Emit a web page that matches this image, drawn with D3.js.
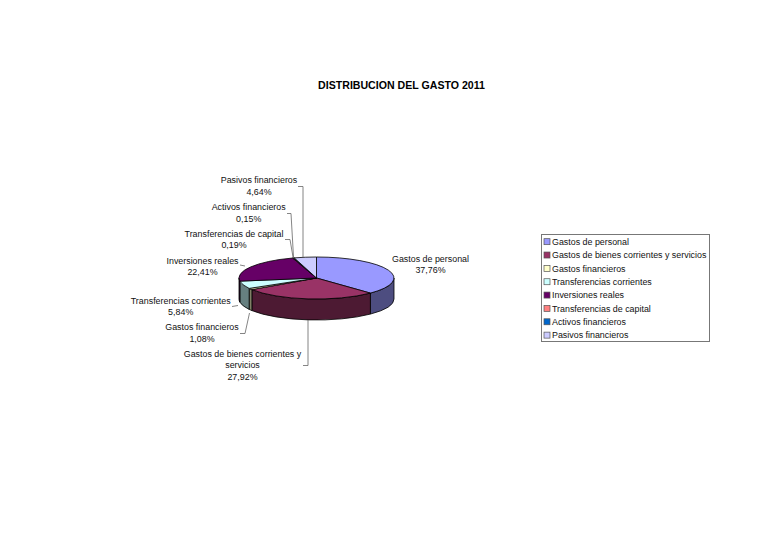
<!DOCTYPE html>
<html>
<head>
<meta charset="utf-8">
<script src="https://d3js.org/d3.v7.min.js"></script>
<style>
    html, body { margin: 0; padding: 0; background: #fff; }
    svg { display: block; }
    text { font-family: "Liberation Sans", Arial, sans-serif; font-size: 8.9px; fill: #111; }
    .title { font-size: 10.6px; font-weight: bold; fill: #000; }
</style>
</head>
<body>
<script>
//chart data
var title = "DISTRIBUCION DEL GASTO 2011";
var categories = ["Gastos de personal", "Gastos de bienes corrientes y servicios", "Gastos financieros",
    "Transferencias corrientes", "Inversiones reales", "Transferencias de capital",
    "Activos financieros", "Pasivos financieros"];
var values = [37.76, 27.92, 1.08, 5.84, 22.41, 0.19, 0.15, 4.64];
var valueLabels = ["37,76%", "27,92%", "1,08%", "5,84%", "22,41%", "0,19%", "0,15%", "4,64%"];
var colors = ["#9999ff", "#993366", "#ffffcc", "#ccffff", "#660066", "#ff8080", "#0066cc", "#ccccff"];
var sideColors = ["#4d4d80", "#4d1a33", "#808066", "#668080", "#330033", "#804040", "#003366", "#666680"];

//label layout: wrapped text, anchor point and leader line
var labelLines = [
    ["Gastos de personal"],
    ["Gastos de bienes corrientes y", "servicios"],
    ["Gastos financieros"],
    ["Transferencias corrientes"],
    ["Inversiones reales"],
    ["Transferencias de capital"],
    ["Activos financieros"],
    ["Pasivos financieros"]
];
var labelCenters = [[430.5, 261.5], [242.5, 356.5], [202, 330], [180.7, 303.5], [202.5, 263.5], [234, 236.5], [248.7, 210], [259, 183]];
var leaders = [
    null,
    [[303, 365.5], [308, 365.5], [308, 320]],
    [[240, 333.5], [245, 333.5], [249.5, 313]],
    [[232, 306.5], [238, 305.5]],
    [[240, 265], [245, 266]],
    [[285, 239.5], [290, 239.5], [293, 257]],
    [[287, 213.5], [291, 213.5], [293.5, 257]],
    [[298, 186.5], [303, 186.5], [303, 257]]
];

var width = 768, height = 543;
var cx = 316.5, cy = 278, rx = 77.5, ry = 21, depth = 21;

var svg = d3.select("body").append("svg")
    .attr("width", width)
    .attr("height", height);

svg.append("text")
    .attr("class", "title")
    .attr("x", 401.5)
    .attr("y", 89)
    .attr("text-anchor", "middle")
    .text(title);

//pie angles, clockwise from 12 o'clock
var slices = d3.pie().sort(null).value(function(d){ return d; })(values);

function pointAt(angle, yOffset){
    return [cx + rx * Math.sin(angle), cy - ry * Math.cos(angle) + yOffset];
}

//side wall of a slice, only the part facing front
function sidePath(a0, a1){
    var start = Math.max(a0, Math.PI / 2), end = Math.min(a1, Math.PI * 3 / 2);
    if (end <= start) return null;
    var p0 = pointAt(start, 0), p1 = pointAt(end, 0), p2 = pointAt(end, depth), p3 = pointAt(start, depth);
    return "M" + p0 + "A" + rx + "," + ry + " 0 0 1 " + p1 + "L" + p2 +
        "A" + rx + "," + ry + " 0 0 0 " + p3 + "Z";
}

var pie3d = svg.append("g").attr("class", "pie");

pie3d.selectAll(".side")
    .data(slices)
    .enter()
    .append("path")
    .attr("class", "side")
    .attr("d", function(d){ return sidePath(d.startAngle, d.endAngle); })
    .attr("fill", function(d, i){ return sideColors[i]; })
    .attr("stroke", "#000")
    .attr("stroke-width", 0.8);

var arc = d3.arc().innerRadius(0).outerRadius(1);

pie3d.selectAll(".top")
    .data(slices)
    .enter()
    .append("path")
    .attr("class", "top")
    .attr("transform", "translate(" + cx + "," + cy + ") scale(" + rx + "," + ry + ")")
    .attr("d", arc)
    .attr("fill", function(d, i){ return colors[i]; })
    .attr("stroke", "#000")
    .attr("stroke-width", 0.8)
    .attr("vector-effect", "non-scaling-stroke");

//leader lines
var line = d3.line();
svg.selectAll(".leader")
    .data(leaders.filter(function(d){ return d; }))
    .enter()
    .append("path")
    .attr("class", "leader")
    .attr("d", line)
    .attr("fill", "none")
    .attr("stroke", "#666")
    .attr("stroke-width", 0.8);

//data labels
var lineHeight = 11.5;
categories.forEach(function(name, i){
    var rows = labelLines[i].concat([valueLabels[i]]);
    var label = svg.append("text")
        .attr("class", "label")
        .attr("text-anchor", "middle");
    rows.forEach(function(row, r){
        label.append("tspan")
            .attr("x", labelCenters[i][0])
            .attr("y", labelCenters[i][1] + r * lineHeight)
            .text(row);
    });
});

//legend
var legendX = 541.5, legendY = 234.5, legendW = 168, legendH = 107;
var legendRow = d3.scaleBand().domain(categories).range([235, 341.8]);

var legend = svg.append("g").attr("class", "legend");
legend.append("rect")
    .attr("x", legendX)
    .attr("y", legendY)
    .attr("width", legendW)
    .attr("height", legendH)
    .attr("fill", "#fff")
    .attr("stroke", "#777")
    .attr("stroke-width", 1);

var rows = legend.selectAll(".row")
    .data(categories)
    .enter()
    .append("g")
    .attr("class", "row")
    .attr("transform", function(d){ return "translate(" + legendX + "," + (legendRow(d) + legendRow.bandwidth() / 2) + ")"; });

rows.append("rect")
    .attr("x", 2.5)
    .attr("y", -3)
    .attr("width", 6)
    .attr("height", 6)
    .attr("fill", function(d, i){ return colors[i]; })
    .attr("stroke", "#555")
    .attr("stroke-width", 0.7);

rows.append("text")
    .attr("x", 10.5)
    .attr("y", 3.2)
    .text(function(d){ return d; });
</script>
</body>
</html>
